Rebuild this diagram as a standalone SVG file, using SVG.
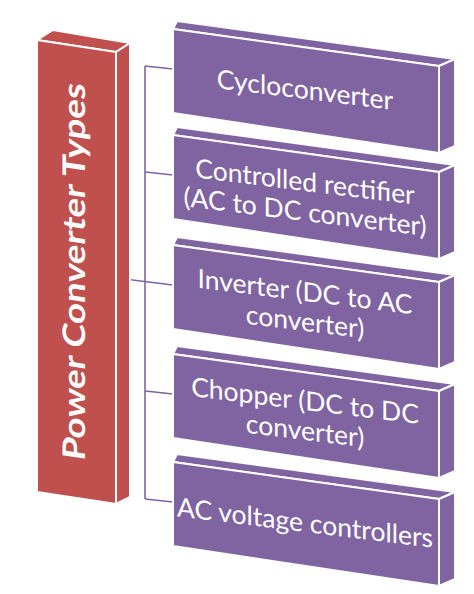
<svg xmlns="http://www.w3.org/2000/svg" width="474" height="594" viewBox="0 0 474 594">
<defs>
<style>
.p{fill:#8064A2;stroke:#fff;stroke-width:2;stroke-linejoin:round}
.r{fill:#C0504D;stroke:#fff;stroke-width:2;stroke-linejoin:round}
.t{fill:#fff;font-family:Lato,"Open Sans","Liberation Sans",sans-serif;font-size:26.5px;text-anchor:middle}
.h{fill:#fff;font-family:Lato,"Open Sans","Liberation Sans",sans-serif;font-size:31px;font-weight:bold;text-anchor:middle}
.c{fill:none;stroke:#8064A2;stroke-width:1.6}
</style>
</defs>
<rect width="474" height="594" fill="#fff"/>
<g id="connectors">
<line class="c" x1="145" y1="66" x2="145" y2="499"/>
<line class="c" x1="145" y1="66" x2="173" y2="69"/>
<line class="c" x1="145" y1="172" x2="173" y2="175"/>
<line class="c" x1="116" y1="278" x2="173" y2="285"/>
<line class="c" x1="145" y1="391" x2="173" y2="394"/>
<line class="c" x1="145" y1="499" x2="173" y2="502"/>
</g>
<g id="root">
<polygon class="r" points="37,40 53,30 130,43 116,52"/>
<polygon class="r" points="116,52 130,43 130,497 116,504"/>
<polygon class="r" points="37,40 116,52 116,504 37,492"/>
<text class="h" transform="translate(85,273) skewY(8.6) rotate(-90)" textLength="377" lengthAdjust="spacingAndGlyphs">Power Converter Types</text>
</g>
<g id="n1">
<polygon class="p" points="173,29 177,21 455,59 439,66"/>
<polygon class="p" points="439,66 455,59 455,146 439,153"/>
<polygon class="p" points="173,29 439,66 439,153 173,113"/>
<text class="t" transform="translate(305,90) skewY(7)" y="9">Cycloconverter</text>
</g>
<g id="n2">
<polygon class="p" points="173,135 177,127 455,165 439,172"/>
<polygon class="p" points="439,172 455,165 455,252 439,259"/>
<polygon class="p" points="173,135 439,172 439,259 173,219"/>
<text class="t" transform="translate(305,196) skewY(7)"><tspan x="0" y="-5">Controlled rectifier</tspan><tspan x="0" y="25">(AC to DC converter)</tspan></text>
</g>
<g id="n3">
<polygon class="p" points="173,245 177,237 455,275 439,282"/>
<polygon class="p" points="439,282 455,275 455,362 439,369"/>
<polygon class="p" points="173,245 439,282 439,369 173,329"/>
<text class="t" transform="translate(305,306) skewY(7)"><tspan x="0" y="-5">Inverter (DC to AC</tspan><tspan x="0" y="25">converter)</tspan></text>
</g>
<g id="n4">
<polygon class="p" points="173,354 177,346 455,384 439,391"/>
<polygon class="p" points="439,391 455,384 455,471 439,478"/>
<polygon class="p" points="173,354 439,391 439,478 173,438"/>
<text class="t" transform="translate(305,415) skewY(7)"><tspan x="0" y="-5">Chopper (DC to DC</tspan><tspan x="0" y="25">converter)</tspan></text>
</g>
<g id="n5">
<polygon class="p" points="173,462 177,454 455,492 439,499"/>
<polygon class="p" points="439,499 455,492 455,579 439,586"/>
<polygon class="p" points="173,462 439,499 439,586 173,546"/>
<text class="t" transform="translate(305,523) skewY(7)" y="9">AC voltage controllers</text>
</g>
</svg>
